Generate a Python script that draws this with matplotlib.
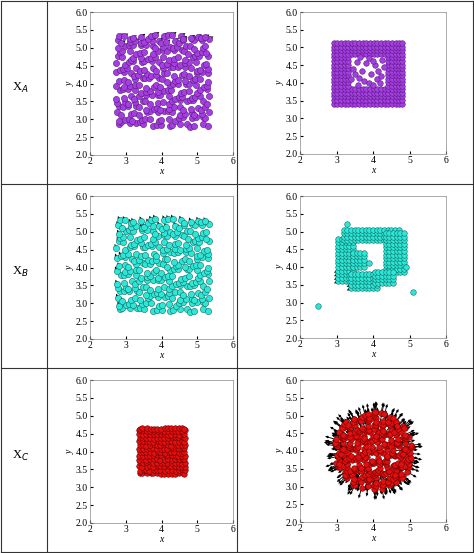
import numpy as np
import matplotlib
matplotlib.use("Agg")
import matplotlib.pyplot as plt
from matplotlib.lines import Line2D

plt.rcParams['font.family'] = ['Liberation Serif', 'DejaVu Serif']

row_labels = ["X$_A$", "X$_B$", "X$_C$"]
colors = ["#a43ee0", "#2ee6d6", "#e01010"]
edges = ["#5a1a80", "#0e6e66", "#700000"]

# grid coordinates
sqA_x = [2.78, 2.93, 3.10, 3.24, 3.41, 3.55, 3.72, 3.88, 4.02, 4.19, 4.33, 4.50, 4.64, 4.81, 4.95, 5.12, 5.27]
sqA_y = [2.85, 3.00, 3.17, 3.31, 3.48, 3.63, 3.79, 3.94, 4.10, 4.26, 4.41, 4.57, 4.72, 4.88, 5.03, 5.18, 5.30]
sqB_x = [2.80, 2.95, 3.11, 3.26, 3.42, 3.57, 3.73, 3.88, 4.04, 4.19, 4.35, 4.50, 4.66, 4.81, 4.97, 5.12, 5.28]
sqB_y = [2.82, 2.98, 3.13, 3.29, 3.44, 3.60, 3.75, 3.91, 4.06, 4.22, 4.37, 4.53, 4.68, 4.84, 4.99, 5.15, 5.30]
sqC_x = [3.38, 3.48, 3.58, 3.68, 3.78, 3.88, 3.98, 4.08, 4.18, 4.28, 4.38, 4.48, 4.58, 4.64]
sqC_y = [3.38, 3.48, 3.58, 3.68, 3.78, 3.88, 3.98, 4.08, 4.18, 4.28, 4.38, 4.48, 4.58, 4.64]
jit = [0.03, -0.05, 0.02, 0.06, -0.02, -0.06, 0.04, 0.0, -0.03, 0.05, -0.04, 0.01, 0.06, -0.01, -0.05, 0.03, 0.02]

# XA final: frame with hollow centre
frA_x = [2.92, 3.02, 3.12, 3.22, 3.32, 3.42, 3.52, 3.62, 3.72, 3.82, 3.92, 4.02, 4.12, 4.22, 4.32, 4.42, 4.52, 4.62, 4.72, 4.80]
frA_y = [3.42, 3.52, 3.62, 3.72, 3.82, 3.92, 4.02, 4.12, 4.22, 4.32, 4.42, 4.52, 4.62, 4.72, 4.82, 4.92, 5.02, 5.12]
holeA = (3.35, 4.35, 3.85, 4.78)
inA_x = [3.50, 3.62, 3.75, 3.88, 4.00, 4.10, 4.22, 3.45, 3.70, 3.95, 4.15, 4.30, 3.55, 3.80, 4.05, 4.25, 3.60, 3.90, 4.20, 3.40, 3.65, 4.00]
inA_y = [4.25, 4.15, 4.05, 4.00, 3.95, 4.10, 4.20, 4.40, 4.35, 4.25, 4.35, 4.45, 4.60, 4.55, 4.50, 4.65, 3.95, 4.70, 4.00, 4.10, 4.72, 4.62]

# XB final: blobs forming a broken ring
blobB = [(3.05, 3.45, 3.60, 4.85), (3.20, 4.75, 4.75, 5.10), (4.35, 4.85, 3.85, 5.00),
         (3.40, 4.10, 3.40, 3.80), (4.05, 4.60, 3.55, 3.85), (3.45, 3.75, 4.00, 4.40)]
outB_x = [2.50, 5.10, 3.30, 4.90, 3.90]
outB_y = [2.90, 3.30, 5.20, 4.00, 4.10]

# XC final: round cloud
cl_x = [2.95, 3.05, 3.15, 3.25, 3.35, 3.45, 3.55, 3.65, 3.75, 3.85, 3.95, 4.05, 4.15, 4.25, 4.35, 4.45, 4.55, 4.65, 4.75, 4.85, 4.95, 5.05]
cl_y = [2.90, 3.00, 3.10, 3.20, 3.30, 3.40, 3.50, 3.60, 3.70, 3.80, 3.90, 4.00, 4.10, 4.20, 4.30, 4.40, 4.50, 4.60, 4.70, 4.80, 4.90, 5.00, 5.10]
clC_centre = (4.0, 4.0)
clC_radius = 1.12


def grid(xs, ys, j=0.0):
    X, Y = np.meshgrid(xs, ys)
    n = len(jit)
    J = np.array([[jit[(i + 2 * k) % n] for i in range(len(xs))] for k in range(len(ys))])
    J2 = np.array([[jit[(3 * i + k) % n] for i in range(len(xs))] for k in range(len(ys))])
    return (X + j * J).ravel(), (Y + j * J2).ravel()


fig = plt.figure(figsize=(4.74, 5.53), dpi=100)

W, H = 474, 553
def add_ax(l, r, t, b):
    ax = fig.add_axes([l / W, 1 - b / H, (r - l) / W, (b - t) / H])
    ax.set_xlim(2, 6)
    ax.set_ylim(2, 6)
    ax.set_xticks([2, 3, 4, 5, 6])
    ax.set_yticks([2.0, 2.5, 3.0, 3.5, 4.0, 4.5, 5.0, 5.5, 6.0])
    ax.set_yticklabels([f"{v:.1f}" for v in [2.0, 2.5, 3.0, 3.5, 4.0, 4.5, 5.0, 5.5, 6.0]])
    ax.tick_params(labelsize=7, length=2, direction='in', pad=1.5)
    ax.set_xlabel("x", fontsize=7, style='italic', labelpad=0.5)
    ax.set_ylabel("y", fontsize=7, style='italic', labelpad=0.5)
    for s in ax.spines.values():
        s.set_linewidth(0.5)
        s.set_color('#888888')
    return ax

def dots(ax, x, y, i, s=20):
    ax.scatter(x, y, s=s, c=colors[i], edgecolors=edges[i], linewidths=0.4, zorder=3)

def arrows(ax, x, y, u, v):
    ax.quiver(x, y, u, v, angles='xy', scale_units='xy', scale=1, color='black',
              width=0.006, headwidth=3, headlength=3, zorder=2)

for r in range(3):
    off = 184 * r
    a1 = add_ax(90, 233, 12 + off, 155 + off)
    a2 = add_ax(300, 446, 12 + off, 154 + off)
    if r == 0:
        x, y = grid(sqA_x, sqA_y, 1.0)
        top = y > 5.1
        arrows(a1, x[top], y[top], np.full(top.sum(), 0.12), np.full(top.sum(), 0.08))
        dots(a1, x, y, 0)
        X, Y = np.meshgrid(frA_x, frA_y)
        X, Y = X.ravel(), Y.ravel()
        keep = ~((X > holeA[0]) & (X < holeA[1]) & (Y > holeA[2]) & (Y < holeA[3]))
        dots(a2, np.r_[X[keep], inA_x], np.r_[Y[keep], inA_y], 0, s=16)
    elif r == 1:
        x, y = grid(sqB_x, sqB_y, 1.0)
        edge = (y > 5.1) | (x < 2.9)
        arrows(a1, x[edge], y[edge], np.full(edge.sum(), -0.05), np.full(edge.sum(), 0.12))
        dots(a1, x, y, 1)
        bx, by = [], []
        for (x0, x1, y0, y1) in blobB:
            gx = np.arange(x0, x1 + 1e-6, 0.1)
            gy = np.arange(y0, y1 + 1e-6, 0.1)
            X, Y = np.meshgrid(gx, gy)
            bx.append(X.ravel()); by.append(Y.ravel())
        bx = np.concatenate(bx); by = np.concatenate(by)
        sel = bx < 3.5
        arrows(a2, bx[sel & (by < 4.0)], by[sel & (by < 4.0)], -0.12, -0.06)
        dots(a2, np.r_[bx, outB_x], np.r_[by, outB_y], 1, s=16)
    else:
        x, y = grid(sqC_x, sqC_y, 0.3)
        dots(a1, x, y, 2, s=16)
        x, y = grid(cl_x, cl_y, 1.5)
        dx, dy = x - clC_centre[0], y - clC_centre[1]
        rr = np.hypot(dx, dy)
        keep = rr < clC_radius
        x, y, dx, dy, rr = x[keep], y[keep], dx[keep], dy[keep], rr[keep]
        out = rr > 0.55
        arrows(a2, x[out], y[out], 0.3 * dx[out] / rr[out], 0.3 * dy[out] / rr[out])
        dots(a2, x, y, 2, s=16)
    fig.text(12 / W, 1 - (88 + off) / H, row_labels[r], fontsize=9, va='center', ha='left')

# table lines
def hline(y, x0=1, x1=473):
    fig.add_artist(Line2D([x0 / W, x1 / W], [1 - y / H, 1 - y / H], color='#333333', lw=0.8))
def vline(x, y0=1, y1=552):
    fig.add_artist(Line2D([x / W, x / W], [1 - y0 / H, 1 - y1 / H], color='#333333', lw=0.8))
for yy in [1, 184, 368, 552]:
    hline(yy)
for xx in [1, 47, 237, 473]:
    vline(xx)

fig.savefig("out.png", dpi=100)
